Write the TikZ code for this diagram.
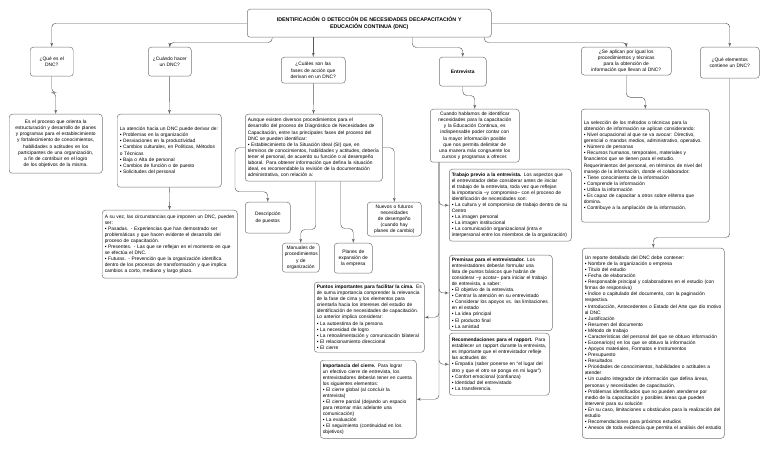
\documentclass[tikz,border=0pt]{standalone}
\usepackage{fontspec}
\setmainfont{Liberation Sans}
\usetikzlibrary{arrows}
\hyphenpenalty=10000
\exhyphenpenalty=10000

\begin{document}
\begin{tikzpicture}[
		x=1bp, y=-1bp,
		>=latex',
		font=\fontsize{4.9}{6.1}\selectfont,
		box/.style={
			rectangle,
			rounded corners=3bp,
			draw=black!55,
			line width=0.5pt,
			anchor=north west,
			inner sep=2.5bp,
			fill=white
		},
		ask/.style={box, align=center},
		answer/.style={box, align=left},
		link/.style={
			draw=black!65,
			line width=0.45pt,
			->,
			rounded corners=4bp
		}
		]
		\useasboundingbox (0,0) rectangle (768,449);
		
		% We start by placing the blocks
		
		\node [ask, text width=239bp, minimum height=28bp, font=\fontsize{5.3}{7}\selectfont\bfseries] (title) at (247,9)
		{IDENTIFICACIÓN O DETECCIÓN DE NECESIDADES DECAPACITACIÓN Y\\EDUCACIÓN CONTINUA (DNC)};
		
		% the questions
		\node [ask, text width=38bp, minimum height=29bp] (what) at (30,47) {¿Qué es el\\DNC?};
		\node [ask, text width=38bp, minimum height=29bp] (when) at (148,47) {¿Cuándo hacer\\un DNC?};
		\node [ask, text width=60bp, minimum height=26bp, inner sep=2bp] (phases) at (281,57)
		{¿Cuáles son las fases de acción que derivan en un DNC?};
		\node [ask, text width=42bp, minimum height=29bp] (interview) at (439,57) {\textbf{Entrevista}};
		\node [ask, text width=85bp, minimum height=26bp] (same) at (581,47)
		{¿Se aplican por igual los procedimientos y técnicas para la obtención de información que llevan al DNC?};
		\node [ask, text width=54bp, minimum height=31bp] (elements) at (700,47) {¿Qué elementos\\contiene un DNC?};
		
		% the answers
		\node [ask, text width=88bp, minimum height=59bp] (whatans) at (9,114)
		{Es el proceso que orienta la estructuración y desarrollo de planes y programas para el establecimiento y fortalecimiento de conocimientos, habilidades o actitudes en los participantes de una organización, a fin de contribuir en el logro de los objetivos de la misma.};
		
		\node [answer, text width=99bp, minimum height=73bp] (whenans) at (117,114)
		{%
			La atención hacia un DNC puede derivar de:\\
			▪ Problemas en la organización\\
			▪ Desviaciones en la productividad\\
			▪ Cambios culturales, en Políticas, Métodos o Técnicas\\
			▪ Baja o Alta de personal\\
			▪ Cambios de función o de puesto\\
			▪ Solicitudes del personal
		};
		
		\node [answer, text width=130bp, minimum height=68bp] (whenmore) at (102,210)
		{%
			A su vez, las circunstancias que imponen un DNC, pueden ser:\\
			▪ Pasadas. - Experiencias que han demostrado ser problemáticas y que hacen evidente el desarrollo del proceso de capacitación.\\
			▪ Presentes. - Las que se reflejan en el momento en que se efectúa el DNC.\\
			▪ Futuras. - Prevención que la organización identifica dentro de los procesos de transformación y que implica cambios a corto, mediano y largo plazo.
		};
		
		\node [answer, text width=132bp, minimum height=67bp] (phasesans) at (245,114)
		{%
			Aunque existen diversos procedimientos para el desarrollo del proceso de Diagnóstico de Necesidades de Capacitación, entre las principales fases del proceso del DNC se pueden identificar:\\
			▪ Establecimiento de la Situación Ideal (SI) que, en términos de conocimientos, habilidades y actitudes, debería tener el personal, de acuerdo su función o al desempeño laboral. Para obtener información que defina la situación ideal, es recomendable la revisión de la documentación administrativa, con relación a:
		};
		
		\node [ask, text width=40bp, minimum height=31bp] (posts) at (245,202) {Descripción de puestos};
		\node [ask, text width=32bp, minimum height=29bp] (manuals) at (282,243) {Manuales de procedimientos y de organización};
		\node [ask, text width=33bp, minimum height=30bp] (plans) at (334,243) {Planes de expansión de la empresa};
		\node [ask, text width=49bp, minimum height=31bp] (newneeds) at (367,202)
		{Nuevos o futuros necesidades de desempeño (cuando hay planes de cambio)};
		
		\node [ask, text width=84bp, minimum height=53bp] (interviewans) at (430,109)
		{Cuando hablamos de identificar necesidades para la capacitación y la Educación Continua, es indispensable poder contar con la mayor información posible que nos permita delimitar de una manera más congruente los cursos y programas a ofrecer.};
		
		\node [answer, text width=117bp, minimum height=72bp] (before) at (449,169)
		{%
			\textbf{Trabajo previo a la entrevista.} Los aspectos que el entrevistador debe considerar antes de iniciar el trabajo de la entrevista, toda vez que reflejan la importancia –y compromiso– con el proceso de identificación de necesidades son:\\
			▪ La cultura y el compromiso de trabajo dentro de su Centro\\
			▪ La imagen personal\\
			▪ La imagen institucional\\
			▪ La comunicación organizacional (intra e interpersonal entre los miembros de la organización)
		};
		
		\node [answer, text width=98bp, minimum height=73bp] (premises) at (449,255)
		{%
			\textbf{Premisas para el entrevistador.} Los entrevistadores deberán formular una lista de puntos básicos que habrán de considerar –y acotar– para iniciar el trabajo de entrevista, a saber:\\
			▪ El objetivo de la entrevista.\\
			▪ Centrar la atención en su entrevistado\\
			▪ Considerar los apoyos vs. las limitaciones en el estado\\
			▪ La idea principal\\
			▪ El producto final\\
			▪ La amistad
		};
		
		\node [answer, text width=95bp, minimum height=62bp] (rapport) at (449,333)
		{%
			\textbf{Recomendaciones para el rapport.} Para establecer un rapport durante la entrevista, es importante que el entrevistador refleje las actitudes de:\\
			▪ Empatía (saber ponerse en ``el lugar del otro y que el otro se ponga en mi lugar'')\\
			▪ Confort emocional (confianza)\\
			▪ Identidad del entrevistado\\
			▪ La transferencia.
		};
		
		\node [answer, text width=105bp, minimum height=70bp] (points) at (314,282)
		{%
			\textbf{Puntos importantes para facilitar la cima.} Es de suma importancia comprender la relevancia de la fase de cima y los elementos para orientarla hacia los intereses del estudio de identificación de necesidades de capacitación. Lo anterior implica considerar:\\
			▪ La autoestima de la persona\\
			▪ La necesidad de logro\\
			▪ La retroalimentación y comunicación bilateral\\
			▪ El relacionamiento direccional\\
			▪ El cierre
		};
		
		\node [answer, text width=91bp, minimum height=78bp] (closing) at (320,360)
		{%
			\textbf{Importancia del cierre.} Para lograr un efectivo cierre de entrevista, los entrevistadores deberán tener en cuenta los siguientes elementos:\\
			▪ El cierre global (al concluir la entrevista)\\
			▪ El cierre parcial (dejando un espacio para retomar más adelante una comunicación)\\
			▪ La evaluación\\
			▪ El seguimiento (continuidad en los objetivos)
		};
		
		\node [answer, text width=123bp, minimum height=113bp] (sameans) at (581,109)
		{%
			La selección de los métodos o técnicas para la obtención de información se aplican considerando:\\
			▪ Nivel ocupacional al que se va avocar: Directivo, gerencial o mandos medios, administrativo, operativo.\\
			▪ Número de personas\\
			▪ Recursos humanos, temporales, materiales y financieros que se tienen para el estudio.\\
			Requerimientos del personal, en términos de nivel del manejo de la información, donde el colaborador:\\
			▪ Tiene conocimiento de la información\\
			▪ Comprende la información\\
			▪ Utiliza la información\\
			▪ Es capaz de capacitar a otros sobre el/tema que domina.\\
			▪ Contribuye a la ampliación de la información.\\[8bp]
		};
		
		\node [answer, text width=137bp, minimum height=190bp] (report) at (582,248)
		{%
			Un reporte detallado del DNC debe contener:\\
			▪ Nombre de la organización o empresa\\
			▪ Título del estudio\\
			▪ Fecha de elaboración\\
			▪ Responsable principal y colaboradores en el estudio (con firmas de responsiva)\\
			▪ Índice o capitulado del documento, con la paginación respectiva.\\
			▪ Introducción, Antecedentes o Estado del Arte que dio motivo al DNC\\
			▪ Justificación\\
			▪ Resumen del documento\\
			▪ Método de trabajo\\
			▪ Características del personal del que se obtuvo información\\
			▪ Escenario(s) en los que se obtuvo la información\\
			▪ Apoyos materiales, Formatos e Instrumentos\\
			▪ Presupuesto\\
			▪ Resultados\\
			▪ Prioridades de conocimientos, habilidades o actitudes a atender\\
			▪ Un cuadro integrador de información que defina áreas, personas y necesidades de capacitación.\\
			▪ Problemas identificados que no pueden atenderse por medio de la capacitación y posibles áreas que pueden intervenir para su solución\\
			▪ En su caso, limitaciones u obstáculos para la realización del estudio\\
			▪ Recomendaciones para próximos estudios\\
			▪ Anexos de toda evidencia que permita el análisis del estudio
		};
		
		% title to questions
		\draw [link] (title.west) -| (what.north);
		\draw [link] ([xshift=-97bp]title.south) -- ++(0,5) -| (when.north);
		\draw [link] (phases.north |- title.south) -- (phases.north);
		\draw [link] ([xshift=43bp]title.south) -- ++(0,10) -| (interview.north);
		\draw [link] ([xshift=115bp]title.south) -- ++(0,5) -| (same.north);
		\draw [link] (title.east) -| (elements.north);
		
		% questions to answers
		\draw [link] (what.south) -- ++(0,16) -| (whatans.north);
		\draw [link] (when) -- (whenans);
		\draw [link] (whenans) -- (whenmore);
		\draw [link] (phases) -- (phasesans);
		\draw [link] (interview.south) -- ++(0,9) -| (interviewans.north);
		\draw [link] (same.south) -- ++(0,22) -| (sameans.north);
		\draw [link] (elements.south) -- ++(0,159) -| (report.north);
		
		% the phases
		\draw [link] (phasesans.west) -| ++(-10,44) -| (posts.north);
		\draw [link] ([xshift=2bp]phasesans.south) -- ++(0,48) -| (manuals.north);
		\draw [link] ([xshift=27bp]phasesans.south) -- ++(0,47) -| (plans.north);
		\draw [link] (phasesans.east) -| (newneeds.north);
		
		% the interview
		\coordinate (trunk) at ([xshift=9bp]interviewans.south west);
		\draw [link] (trunk) |- (before.west);
		\draw [link] (trunk) |- (premises.west);
		\draw [link] (trunk) |- (rapport.west);
		\draw [link] (trunk) |- (points.east);
		\draw [link] (trunk) |- (closing.east);
		
		\end{tikzpicture}
\end{document}
